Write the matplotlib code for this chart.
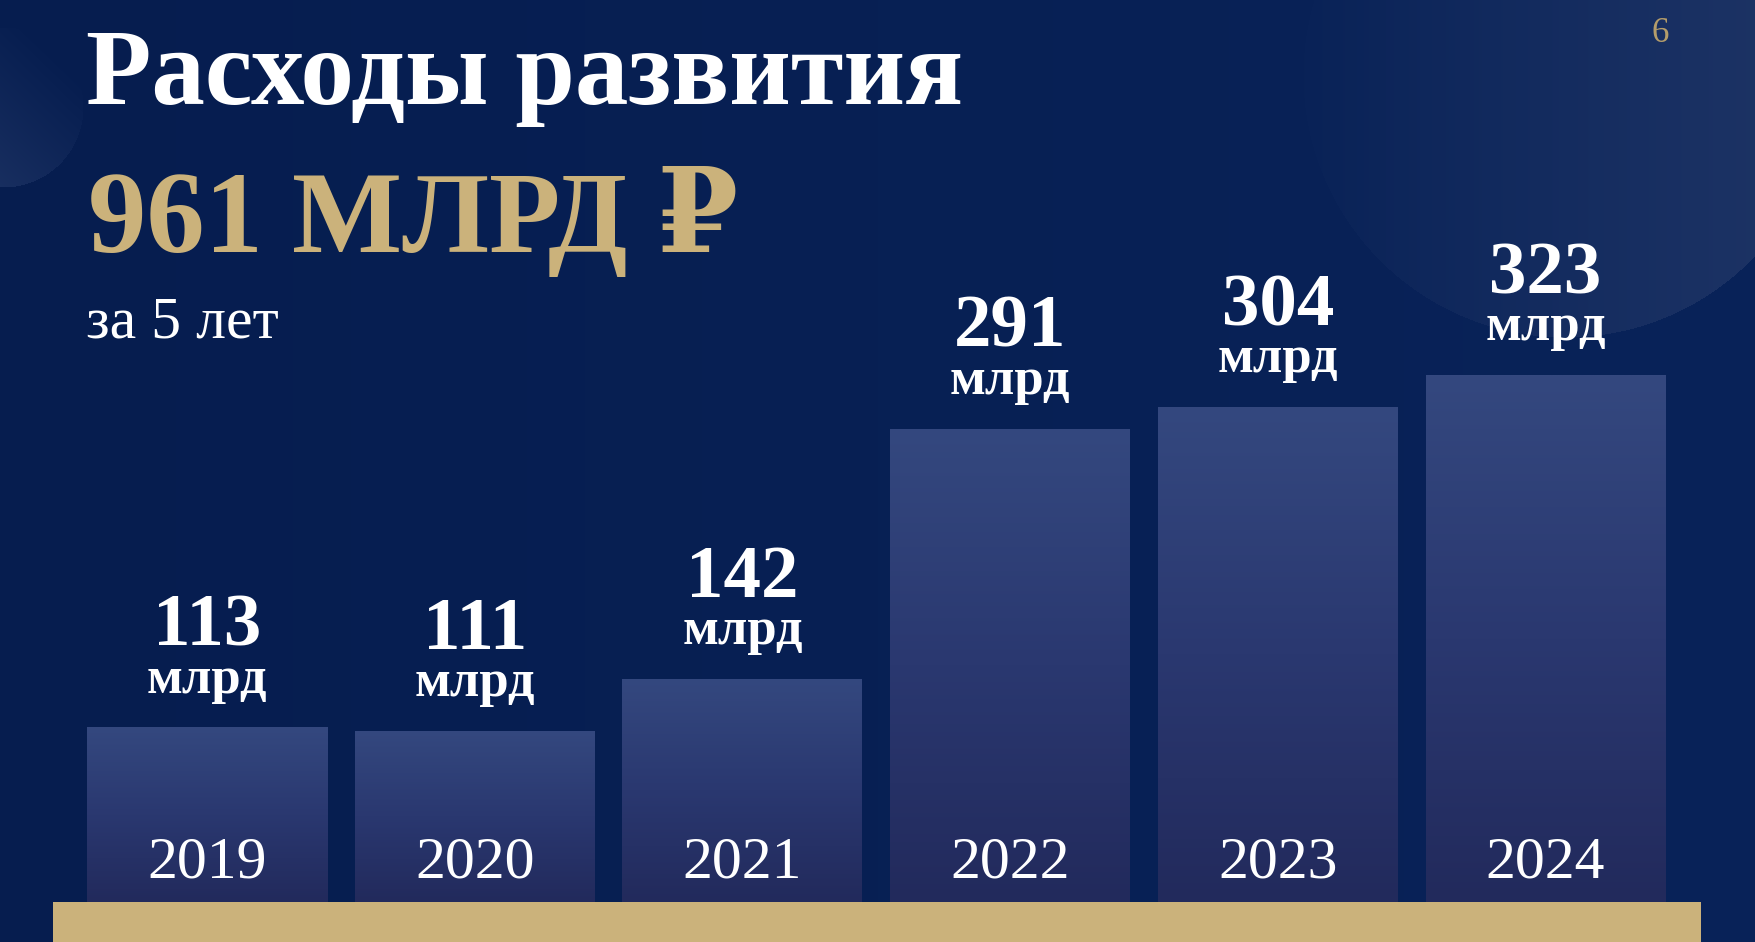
import numpy as np
import matplotlib
matplotlib.use("Agg")
import matplotlib.pyplot as plt
from matplotlib.colors import to_rgb, LinearSegmentedColormap
from matplotlib.patches import Rectangle

# data
years = ["2019", "2020", "2021", "2022", "2023", "2024"]
values = [113, 111, 142, 291, 304, 323]
unit = "млрд"
title = "Расходы развития"
total = "961 МЛРД ₽"
subtitle = "за 5 лет"
page = "6"

W, H = 1755, 942
SERIF = ["Liberation Serif", "DejaVu Serif"]
GOLD = "#cbb27b"
BG_L, BG_R = to_rgb("#061d4f"), to_rgb("#092359")
LIGHT = np.array(to_rgb("#1f3566"))

fig = plt.figure(figsize=(W / 100, H / 100), dpi=100)

# background with the two soft circles
yy, xx = np.mgrid[0:H, 0:W]
t = (xx / W)[..., None]
img = np.array(BG_L) * (1 - t) + np.array(BG_R) * t
big = ((xx - 1565) ** 2 + (yy - 75) ** 2) < 262 ** 2
tb = np.clip((xx - 1290) / (W - 1290), 0, 1) ** 0.9 * 0.85
img[big] = img[big] * (1 - tb[big, None]) + LIGHT * tb[big, None]
small = ((xx - 3) ** 2 + (yy - 107) ** 2) < 80 ** 2
ts = np.clip(0.45 + ((yy - 107) - (xx - 3)) / 230.0, 0, 1) * 0.9
img[small] = img[small] * (1 - ts[small, None]) + LIGHT * ts[small, None]

bg = fig.add_axes([0, 0, 1, 1])
bg.imshow(img, extent=(0, W, H, 0), aspect="auto", interpolation="bilinear")
bg.set_xlim(0, W)
bg.set_ylim(H, 0)
bg.axis("off")

# gold floor
bg.add_patch(Rectangle((53, 902), 1648, 40, facecolor=GOLD, edgecolor="none", zorder=2))

# texts at the top
bg.text(86, 104, title, color="white", fontsize=77, fontweight="bold", family=SERIF, va="baseline")
bg.text(88, 252, total, color=GOLD, fontsize=84, fontweight="bold", family=SERIF, va="baseline")
bg.text(86, 338, subtitle, color="white", fontsize=43, family=SERIF, va="baseline")
bg.text(1660, 42, page, color="#b49d6b", fontsize=25, family=SERIF, va="baseline", ha="center")

# bars
floor_frac = (H - 902) / H
ax = fig.add_axes([0, floor_frac, 1, 1 - floor_frac])
ax.patch.set_alpha(0)
pitch = 267.7
x0 = 207.0
ymin = 9.0
ax.axis("off")

xs = np.arange(len(years))
bars = ax.bar(xs, values, width=240 / pitch, color="none", edgecolor="none")
cmap = LinearSegmentedColormap.from_list("barg", ["#222a5c", "#2a3870", "#34487f"])
grad = np.linspace(0, 1, 256).reshape(-1, 1)
for b in bars:
    x, w, h = b.get_x(), b.get_width(), b.get_height()
    im = ax.imshow(grad, cmap=cmap, origin="lower", aspect="auto",
                   extent=(x, x + w, ymin, h), zorder=1)
    im.set_clip_path(b)

for i, v in enumerate(values):
    ax.annotate(unit, xy=(i, v), xytext=(0, 25), textcoords="offset points",
                ha="center", va="baseline", color="white", fontsize=38,
                fontweight="bold", family=SERIF)
    ax.annotate(str(v), xy=(i, v), xytext=(0, 59), textcoords="offset points",
                ha="center", va="baseline", color="white", fontsize=54,
                fontweight="bold", family=SERIF)
    ax.annotate(years[i], xy=(i, ymin), xytext=(0, 17.3), textcoords="offset points",
                ha="center", va="baseline", color="white", fontsize=43, family=SERIF)
ax.set_xlim(-x0 / pitch, (W - x0) / pitch)
ax.set_ylim(ymin, ymin + 902 / 1.678)

fig.savefig("out.png", dpi=100)
